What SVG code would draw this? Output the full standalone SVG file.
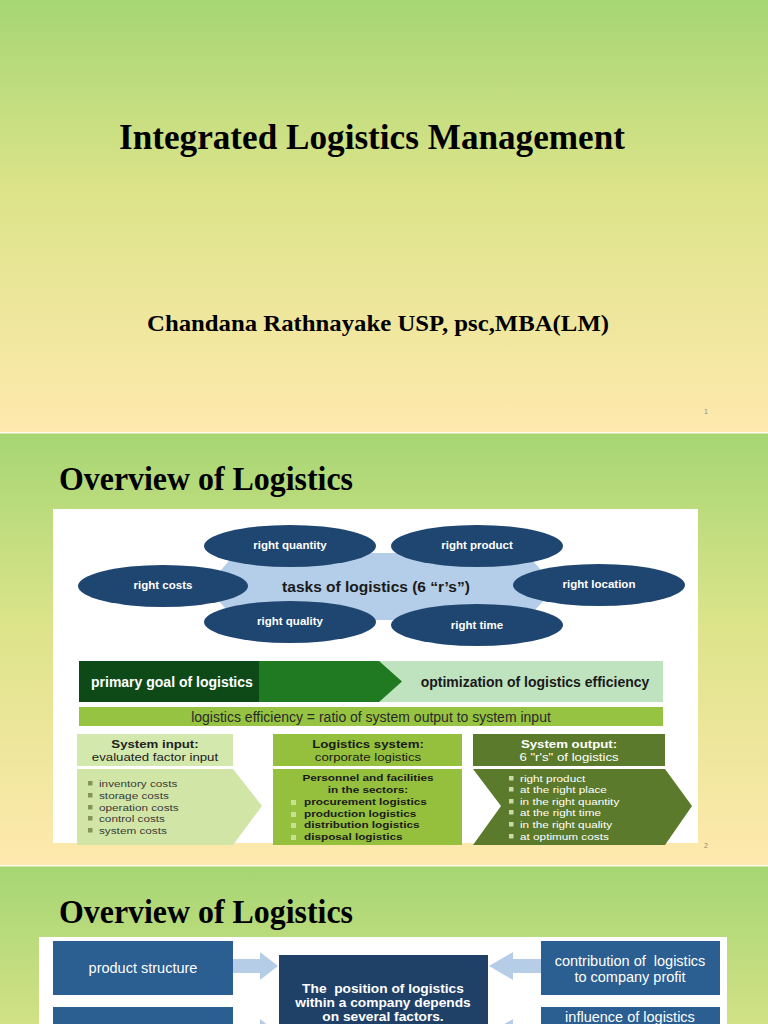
<svg xmlns="http://www.w3.org/2000/svg" width="768" height="1024" viewBox="0 0 768 1024">
<defs>
<linearGradient id="bg" x1="0" y1="0" x2="0" y2="1">
<stop offset="0" stop-color="#a6d674"/>
<stop offset="0.45" stop-color="#dde48a"/>
<stop offset="1" stop-color="#ffe9ae"/>
</linearGradient>
<style>
text{white-space:pre}
.ttl{font-family:"Liberation Serif","Times New Roman",serif;font-weight:bold;fill:#000}
.s{font-family:"Liberation Sans",Arial,sans-serif}
.b{font-weight:bold}
.ell{fill:#1f4670}
.et{font-size:11.5px;fill:#fff;font-weight:bold;text-anchor:middle}
.pg{font-family:"Liberation Sans",Arial,sans-serif;font-size:7px;fill:#8a8a7a}
.bl{font-size:9.8px;fill:#3a3a3a}
.bw{font-size:9.8px;fill:#fff}
.bb{font-size:9.8px;fill:#1a1a1a;font-weight:bold}
.blue{fill:#2b5e91}
.arr{fill:#b5cde6}
.bt{font-size:14.5px;fill:#fff;text-anchor:middle}
.hd{font-size:11.5px;text-anchor:middle}
</style>
</defs>
<!-- backgrounds -->
<rect x="0" y="0" width="768" height="432" fill="url(#bg)"/>
<rect x="0" y="432" width="768" height="1.5" fill="#fffbe8"/>
<rect x="0" y="433.5" width="768" height="431.5" fill="url(#bg)"/>
<rect x="0" y="865" width="768" height="1.5" fill="#fffbe8"/>
<rect x="0" y="866.5" width="768" height="440" fill="url(#bg)"/>

<!-- slide 1 -->
<g id="slide1">
<text class="ttl" x="372" y="149" font-size="36" text-anchor="middle" textLength="506" lengthAdjust="spacingAndGlyphs">Integrated Logistics Management</text>
<text class="ttl" x="378" y="331" font-size="23" text-anchor="middle" textLength="462" lengthAdjust="spacingAndGlyphs">Chandana Rathnayake USP, psc,MBA(LM)</text>
<text class="pg" x="706" y="414" text-anchor="middle">1</text>
</g>

<!-- slide 2 -->
<g id="slide2">
<text class="ttl" x="59" y="490" font-size="33" textLength="294" lengthAdjust="spacingAndGlyphs">Overview of Logistics</text>
<rect x="53" y="509" width="645" height="334" fill="#fff"/>
<text class="pg" x="706" y="848" text-anchor="middle">2</text>
</g>

<g id="tasks-center">
<polygon points="236,553 526,553 556,587 526,620 236,620 206,587" fill="#b4cde8"/>
<text class="s b" x="376" y="592" font-size="15.5" fill="#1a1a1a" text-anchor="middle">tasks of logistics (6 “r’s”)</text>
</g>
<g id="right-quantity"><ellipse class="ell" cx="290" cy="546" rx="86" ry="21"/><text class="s et" x="290" y="549">right quantity</text></g>
<g id="right-product"><ellipse class="ell" cx="477" cy="546" rx="86" ry="21"/><text class="s et" x="477" y="549">right product</text></g>
<g id="right-costs"><ellipse class="ell" cx="163" cy="586" rx="85" ry="21"/><text class="s et" x="163" y="589">right costs</text></g>
<g id="right-location"><ellipse class="ell" cx="599" cy="585" rx="86" ry="21"/><text class="s et" x="599" y="588">right location</text></g>
<g id="right-quality"><ellipse class="ell" cx="290" cy="622" rx="86" ry="21"/><text class="s et" x="290" y="625">right quality</text></g>
<g id="right-time"><ellipse class="ell" cx="477" cy="625" rx="86" ry="21"/><text class="s et" x="477" y="629">right time</text></g>

<g id="goal-bar">
<rect x="79" y="661" width="584" height="41" fill="#bfe2bf"/>
<rect x="79" y="661" width="181" height="41" fill="#0d4a17"/>
<polygon points="259,661 379,661 402,681.5 379,702 259,702" fill="#1f7a22"/>
<text class="s b" x="91" y="687" font-size="14" fill="#fff">primary goal of logistics</text>
<text class="s b" x="535" y="687" font-size="14" fill="#1a1a1a" text-anchor="middle">optimization of logistics efficiency</text>
</g>
<g id="efficiency-bar">
<rect x="79" y="707" width="584" height="19" fill="#96c341"/>
<text class="s" x="371" y="722" font-size="14" fill="#2a2a2a" text-anchor="middle">logistics efficiency = ratio of system output to system input</text>
</g>

<g id="system-input">
<rect x="77" y="734" width="156" height="32" fill="#d3e8ad"/>
<g transform="translate(155,0) scale(1.15,1)">
<text class="s b hd" x="0" y="748" fill="#222">System input:</text>
<text class="s hd" x="0" y="761" fill="#222">evaluated factor input</text>
</g>
<polygon points="77,769 233,769 262,806 233,845 77,845" fill="#d1e6a6"/>
<g fill="#86945a">
<rect x="88" y="781" width="4.5" height="4.5"/><rect x="88" y="793" width="4.5" height="4.5"/><rect x="88" y="805" width="4.5" height="4.5"/><rect x="88" y="816" width="4.5" height="4.5"/><rect x="88" y="828" width="4.5" height="4.5"/>
</g>
<g transform="translate(99,0) scale(1.2,1)">
<text class="s bl" x="0" y="787">inventory costs</text>
<text class="s bl" x="0" y="799">storage costs</text>
<text class="s bl" x="0" y="811">operation costs</text>
<text class="s bl" x="0" y="822">control costs</text>
<text class="s bl" x="0" y="834">system costs</text>
</g>
</g>

<g id="logistics-system">
<rect x="273" y="734" width="189" height="32" fill="#95c03d"/>
<g transform="translate(368,0) scale(1.15,1)">
<text class="s b hd" x="0" y="748" fill="#1a1a1a">Logistics system:</text>
<text class="s hd" x="0" y="761" fill="#1a1a1a">corporate logistics</text>
</g>
<rect x="273" y="769" width="189" height="76" fill="#95c03d"/>
<g transform="translate(368,0) scale(1.2,1)">
<text class="s bb" x="0" y="781" text-anchor="middle">Personnel and facilities</text>
<text class="s bb" x="0" y="793" text-anchor="middle">in the sectors:</text>
</g>
<g fill="#c9df92">
<rect x="291" y="800" width="5" height="5"/><rect x="291" y="812" width="5" height="5"/><rect x="291" y="823" width="5" height="5"/><rect x="291" y="835" width="5" height="5"/>
</g>
<g transform="translate(304,0) scale(1.2,1)">
<text class="s bb" x="0" y="805">procurement logistics</text>
<text class="s bb" x="0" y="817">production logistics</text>
<text class="s bb" x="0" y="828">distribution logistics</text>
<text class="s bb" x="0" y="840">disposal logistics</text>
</g>
</g>

<g id="system-output">
<rect x="473" y="734" width="192" height="32" fill="#5c7a2b"/>
<g transform="translate(569,0) scale(1.15,1)">
<text class="s b hd" x="0" y="748" fill="#fff">System output:</text>
<text class="s hd" x="0" y="761" fill="#fff">6 "r's" of logistics</text>
</g>
<polygon points="473,769 665,769 692,806 665,845 473,845 501,806" fill="#5c7a2b"/>
<g fill="#c9d9a8">
<rect x="509" y="776" width="4.5" height="4.5"/><rect x="509" y="787" width="4.5" height="4.5"/><rect x="509" y="799" width="4.5" height="4.5"/><rect x="509" y="810" width="4.5" height="4.5"/><rect x="509" y="822" width="4.5" height="4.5"/><rect x="509" y="834" width="4.5" height="4.5"/>
</g>
<g transform="translate(520,0) scale(1.2,1)">
<text class="s bw" x="0" y="782">right product</text>
<text class="s bw" x="0" y="793">at the right place</text>
<text class="s bw" x="0" y="805">in the right quantity</text>
<text class="s bw" x="0" y="816">at the right time</text>
<text class="s bw" x="0" y="828">in the right quality</text>
<text class="s bw" x="0" y="840">at optimum costs</text>
</g>
</g>

<!-- slide 3 -->
<g id="slide3">
<text class="ttl" x="59" y="923" font-size="33" textLength="294" lengthAdjust="spacingAndGlyphs">Overview of Logistics</text>
<rect x="39" y="937" width="688" height="100" fill="#fff"/>
</g>
<g id="connectors">
<polygon class="arr" points="233,959 260,959 260,952 278,966 260,980 260,973 233,973"/>
<polygon class="arr" points="541,959 513,959 513,952 489,966 513,980 513,973 541,973"/>
<polygon class="arr" points="233,1026 260,1026 260,1019 278,1033 260,1047 260,1040 233,1040"/>
<polygon class="arr" points="541,1026 513,1026 513,1019 489,1033 513,1047 513,1040 541,1040"/>
</g>
<g id="product-structure"><rect class="blue" x="53" y="941" width="180" height="54"/><text class="s bt" x="143" y="973">product structure</text></g>
<g id="position-center"><rect x="279" y="955" width="209" height="80" fill="#1f4168"/>
<g transform="translate(383,0) scale(1.1,1)">
<text class="s b" x="0" y="993" font-size="12.5" fill="#fff" text-anchor="middle">The  position of logistics</text>
<text class="s b" x="0" y="1007" font-size="12.5" fill="#fff" text-anchor="middle">within a company depends</text>
<text class="s b" x="0" y="1021" font-size="12.5" fill="#fff" text-anchor="middle">on several factors.</text>
</g>
</g>
<g id="contribution"><rect class="blue" x="541" y="941" width="179" height="54"/>
<text class="s bt" x="630" y="966">contribution of  logistics</text>
<text class="s bt" x="630" y="982">to company profit</text>
</g>
<g id="bottom-left"><rect class="blue" x="53" y="1007" width="180" height="30"/></g>
<g id="influence"><rect class="blue" x="541" y="1007" width="179" height="30"/>
<text class="s bt" x="630" y="1022" font-size="14">influence of logistics</text>
</g>
</svg>
